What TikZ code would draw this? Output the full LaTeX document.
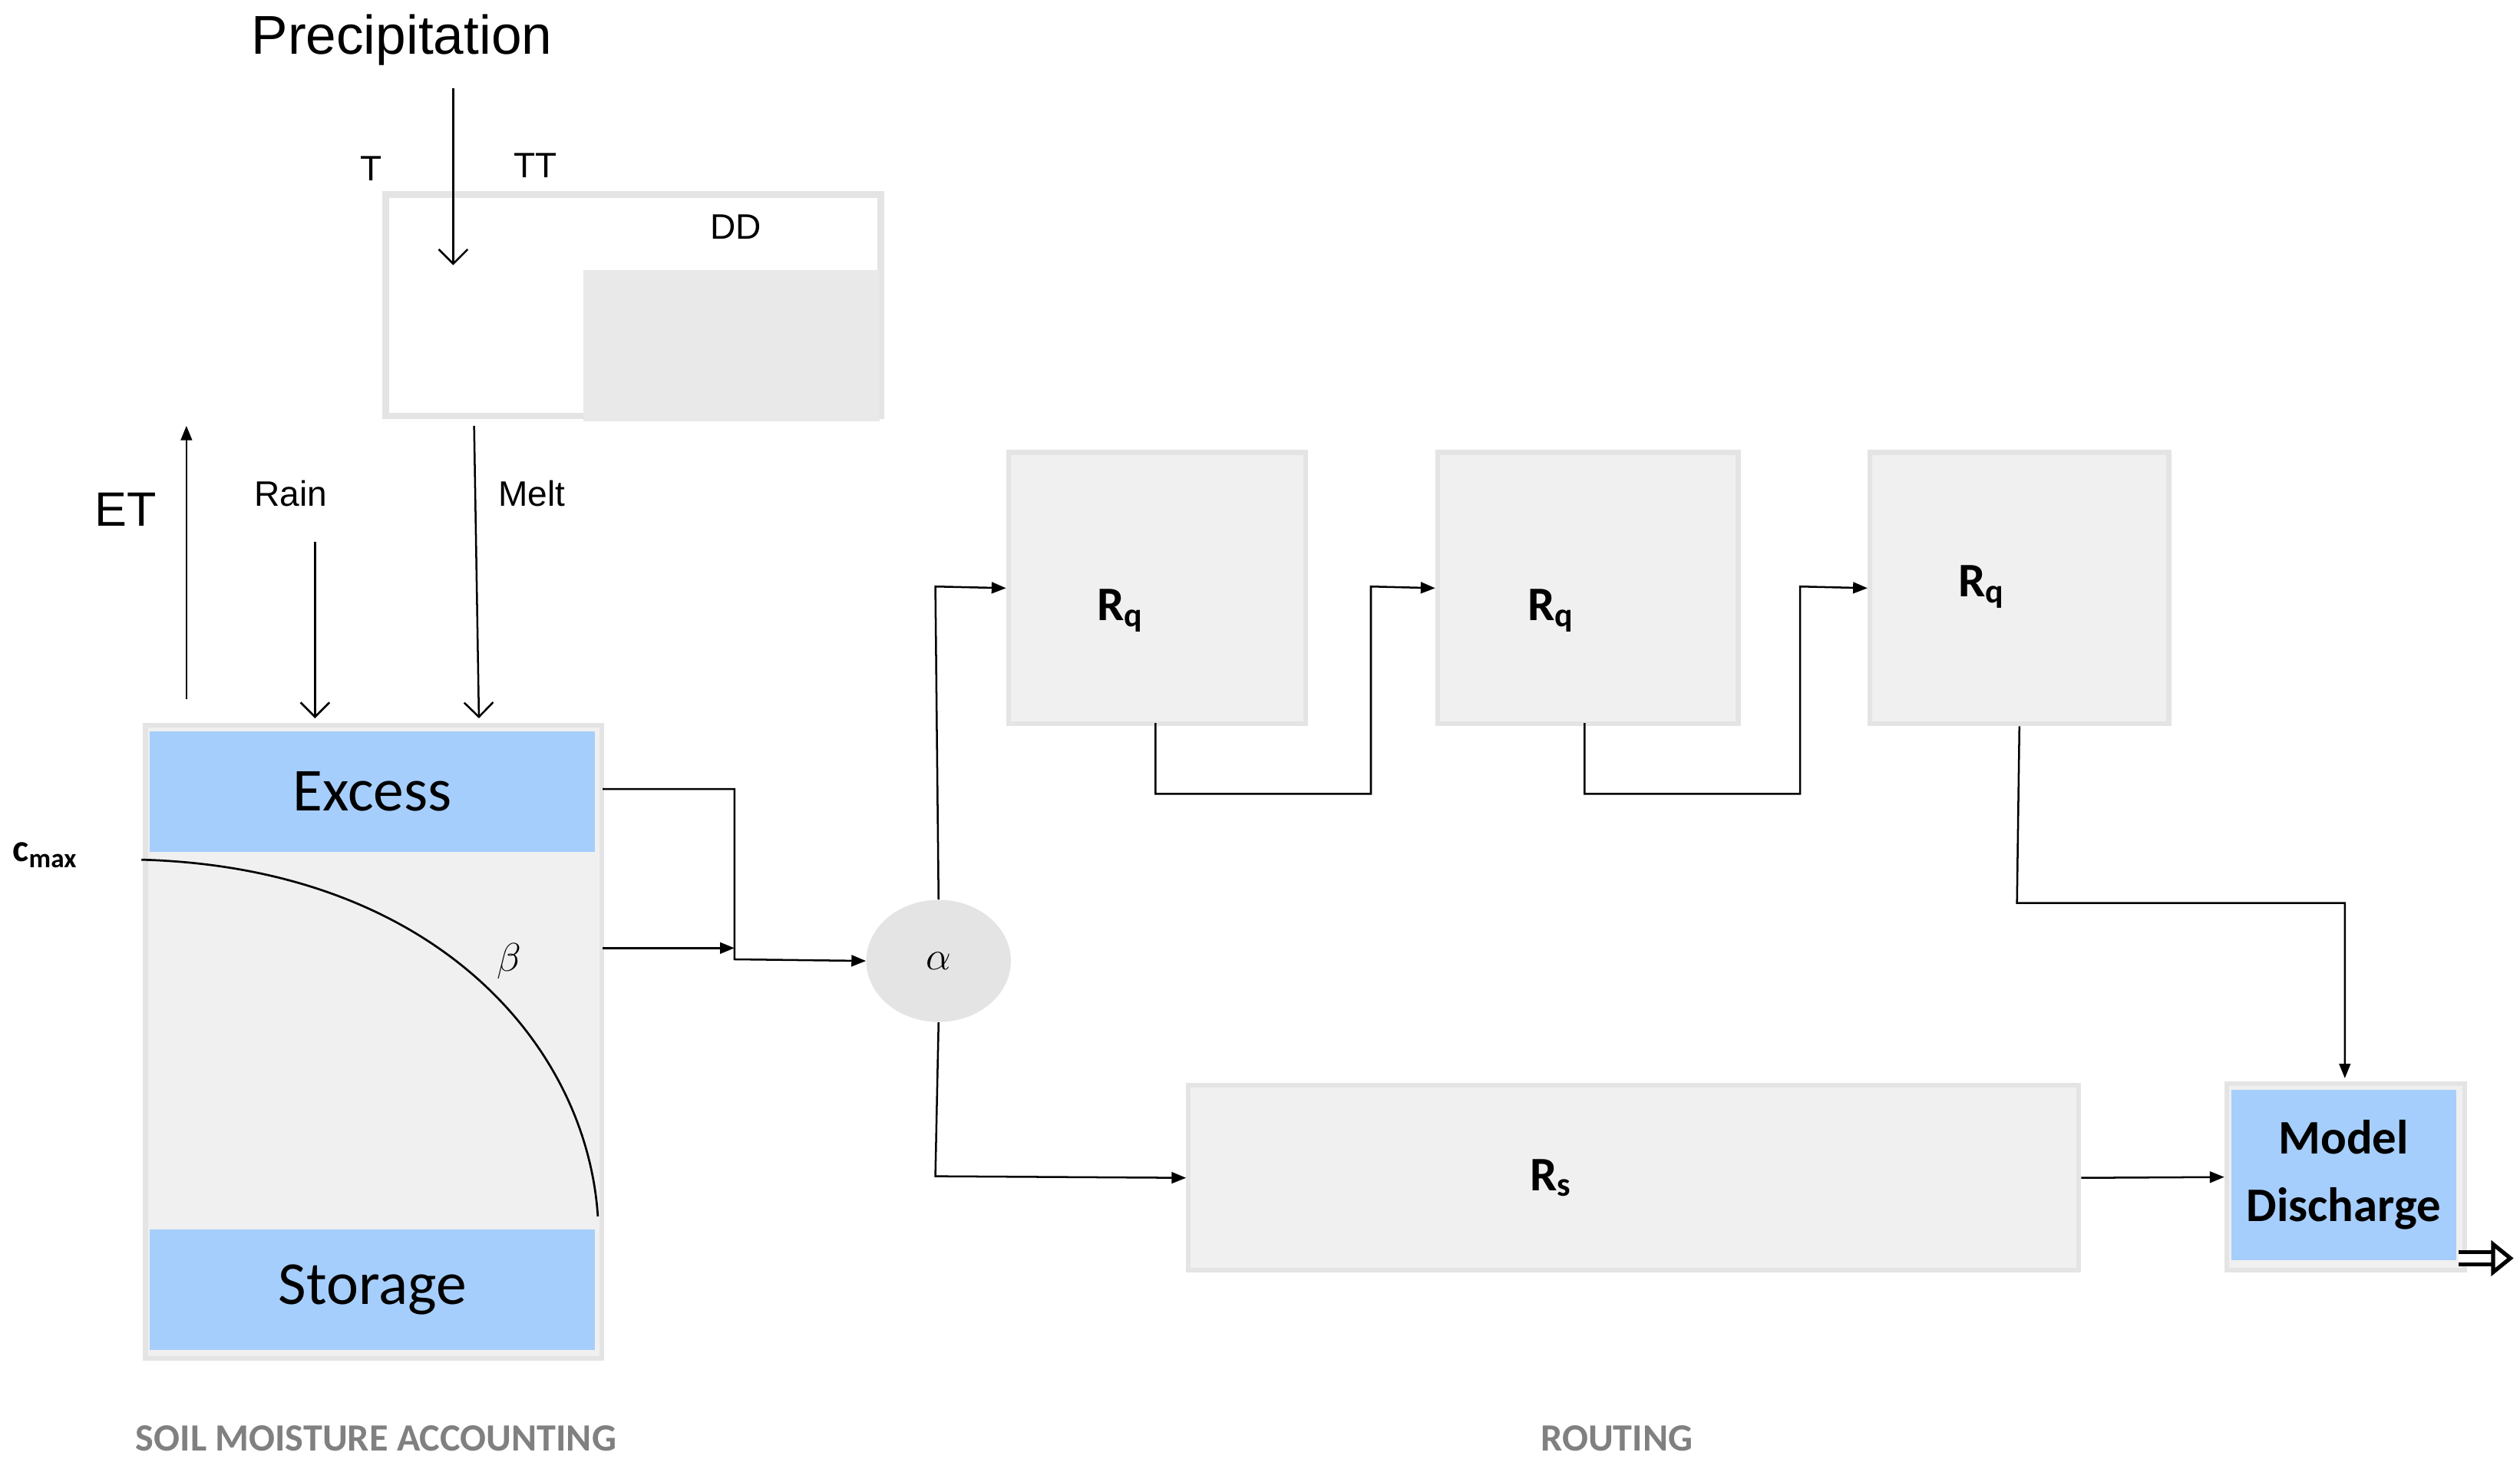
\documentclass[tikz,border=0pt]{standalone}
\usepackage{fontspec}
\setmainfont{Carlito}
\newfontfamily\arial{Liberation Sans}
\usetikzlibrary{arrows.meta,shapes.geometric}
\definecolor{bx}{RGB}{240,240,240}
\definecolor{bxb}{RGB}{228,228,228}
\definecolor{blu}{RGB}{166,206,252}
\definecolor{lab}{RGB}{128,128,128}
\tikzset{
 fs/.style={font=\fontsize{#1}{#1}\selectfont},
 afs/.style={font=\arial\fontsize{#1}{#1}\selectfont},
 bfs/.style={font=\bfseries\fontsize{#1}{#1}\selectfont},
 ar/.style={-{Triangle[length=9pt,width=7pt]},line width=1.2pt},
 br/.style={-{Straight Barb[length=9pt]},line width=1.2pt},
 ln/.style={line width=1.2pt},
 gbox/.style={fill=bx,draw=bxb,line width=3pt},
 bbox/.style={fill=blu,draw=none}
}
\begin{document}
\begin{tikzpicture}[x=1pt,y=-1pt]
\useasboundingbox (0,0) rectangle (1568,915.6);
% snow
\node[draw=bxb,line width=4pt,fill=white,minimum width=308pt,minimum height=138pt,anchor=north west] (snow) at (238,119) {};
\node[fill=bxb!80,minimum width=184pt,minimum height=94pt,anchor=north west,inner sep=0] (snowg) at (363,168) {};
\node[afs=34] (prec) at (250,25) {Precipitation};
\coordinate (p1) at (282,55); \coordinate (p2) at (282,165);
\draw[br] (p1) -- (p2);
\node[afs=22] (T) at (231,105) {T};
\node[afs=22] (TT) at (333,103) {TT};
\node[afs=22] (DD) at (458,141) {DD};
% soil
\node[gbox,minimum width=284pt,minimum height=394pt,anchor=north west] (soil) at (89,450) {};
\node[bbox,minimum width=277pt,minimum height=75pt,anchor=north west,fs=38] (exc) at (93,455) {Excess};
\node[bbox,minimum width=277pt,minimum height=75pt,anchor=north west,fs=38] (sto) at (93,765) {Storage};
\coordinate (c0) at (88,535); \coordinate (c1) at (372,757);
\draw[line width=1.3pt] (c0) .. controls (270,540) and (365,650) .. (c1);
\node[fs=36] (beta) at (317,598) {$\beta$};
\node[bfs=24] (cmax) at (28,532) {c\textsubscript{max}};
\coordinate (et1) at (116,435); \coordinate (et2) at (116,265);
\draw[ar] (et1) -- (et2);
\node[afs=30] (ET) at (78,317) {ET};
\node[afs=22] (rain) at (181,307) {Rain};
\coordinate (r1) at (196,337); \coordinate (r2) at (196,447);
\draw[br] (r1) -- (r2);
\node[afs=22] (melt) at (331,307) {Melt};
\coordinate (m1) at (295,265); \coordinate (m2) at (298,447);
\draw[br] (m1) -- (m2);
% alpha
\node[ellipse,fill=bxb,minimum width=90pt,minimum height=76pt,fs=36,inner sep=0] (al) at (584,598) {$\alpha$};
\coordinate (e1) at (375,491); \coordinate (b1) at (375,590); \coordinate (j) at (457,590);
\draw[ar] (e1) -- (457,491) -- (457,597) -- (al.west);
\draw[ar] (b1) -- (j);
% routing boxes
\node[gbox,minimum width=185pt,minimum height=169pt,anchor=north west] (q1) at (626,280) {};
\node[gbox,minimum width=187pt,minimum height=169pt,anchor=north west] (q2) at (893,280) {};
\node[gbox,minimum width=186pt,minimum height=169pt,anchor=north west] (q3) at (1162,280) {};
\node[bfs=30] (l1) at (697,380) {R\textsubscript{q}};
\node[bfs=30] (l2) at (965,380) {R\textsubscript{q}};
\node[bfs=30] (l3) at (1233,365) {R\textsubscript{q}};
\node[gbox,minimum width=554pt,minimum height=115pt,anchor=north west] (rs) at (738,674) {};
\node[bfs=30] (ls) at (965,733) {R\textsubscript{s}};
\node[gbox,minimum width=148pt,minimum height=116pt,anchor=north west] (md) at (1384,673) {};
\node[bbox,minimum width=140pt,minimum height=106pt,anchor=north west,align=center,font=\bfseries\fontsize{30}{42}\selectfont,inner sep=0] (mdi) at (1388,678) {Model\\Discharge};
\coordinate (mdt) at (1459,671);
\draw[ar] (al.north) -- (582,365) -- (q1.west);
\draw[ar] (al.south) -- (582,732) -- (rs.west);
\draw[ar] (719,450) -- (719,494) -- (853,494) -- (853,365) -- (q2.west);
\draw[ar] (986,450) -- (986,494) -- (1120,494) -- (1120,365) -- (q3.west);
\draw[ar] (q3.south) -- (1255,562) -- (1459,562) -- (mdt);
\draw[ar] (rs.east) -- (md.west);
\coordinate (o1) at (1530,783); \coordinate (o2) at (1564,783);
\draw[double,double distance=5pt,line width=2.5pt,-{Triangle[length=14pt,width=22pt,open,line width=2.5pt]}] (o1) -- (o2);
\node[text=lab,bfs=24] (sma) at (234,895) {SOIL MOISTURE ACCOUNTING};
\node[text=lab,bfs=24] (rt) at (1006,895) {ROUTING};
\end{tikzpicture}
\end{document}
